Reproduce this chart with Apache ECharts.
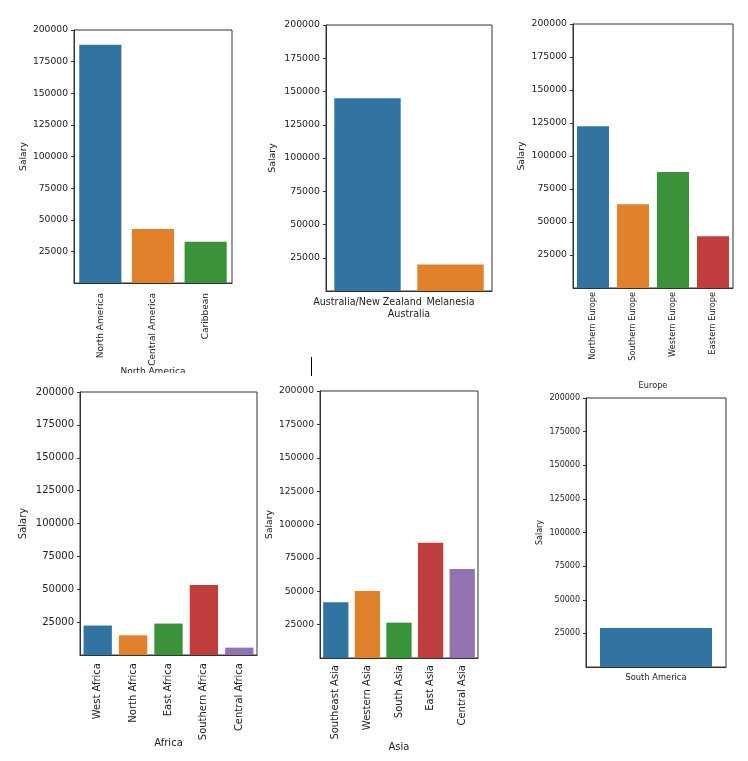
<!DOCTYPE html>
<html>
<head>
<meta charset="utf-8">
<script src="https://cdn.jsdelivr.net/npm/echarts@6/dist/echarts.min.js"></script>
<style>
  html, body { margin: 0; padding: 0; background: #fff; }
  body { width: 748px; height: 761px; position: relative; overflow: hidden; }
  .panel { position: absolute; overflow: hidden; }
  .mark { position: absolute; left: 311px; top: 357px; width: 1px; height: 19px; background: #000; }
</style>
</head>
<body>
<div id="na" class="panel" style="left:0;top:0;width:250px;height:373px"></div>
<div id="au" class="panel" style="left:250px;top:0;width:250px;height:340px"></div>
<div id="eu" class="panel" style="left:500px;top:0;width:248px;height:395px"></div>
<div id="af" class="panel" style="left:0;top:378px;width:260px;height:383px"></div>
<div id="as" class="panel" style="left:255px;top:378px;width:245px;height:383px"></div>
<div id="sa" class="panel" style="left:520px;top:385px;width:228px;height:320px"></div>
<div class="mark"></div>
<script>
// 各地区平均薪资
const northAmericaCats = ['North America', 'Central America', 'Caribbean']
const northAmericaSalary = [188400, 42700, 32700]

const australiaCats = ['Australia/New Zealand', 'Melanesia']
const australiaSalary = [145000, 20000]

const europeCats = ['Northern Europe', 'Southern Europe', 'Western Europe', 'Eastern Europe']
const europeSalary = [122600, 63500, 87800, 39200]

const africaCats = ['West Africa', 'North Africa', 'East Africa', 'Southern Africa', 'Central Africa']
const africaSalary = [22400, 15000, 23900, 53200, 5600]

const asiaCats = ['Southeast Asia', 'Western Asia', 'South Asia', 'East Asia', 'Central Asia']
const asiaSalary = [41700, 50200, 26500, 86400, 66700]

const southAmericaCats = ['South America']
const southAmericaSalary = [29000]

// seaborn 默认调色板（barplot 降饱和）
const palette = ['#3274a1', '#e1812c', '#3a923a', '#c03d3e', '#9372b2']
const font = 'DejaVu Sans'

function makeChart(id, cfg) {
  const chart = echarts.init(document.getElementById(id), null, { renderer: 'canvas' })
  chart.setOption({
    animation: false,
    color: palette,
    grid: {
      show: true,
      left: cfg.grid[0],
      top: cfg.grid[1],
      width: cfg.grid[2],
      height: cfg.grid[3],
      outerBoundsMode: 'none',
      containLabel: false,
      borderColor: '#333',
      borderWidth: 1,
      backgroundColor: 'transparent'
    },
    xAxis: {
      type: 'category',
      data: cfg.cats,
      name: cfg.xName || '',
      nameLocation: 'middle',
      nameGap: cfg.xNameGap || 20,
      nameMoveOverlap: false,
      nameTextStyle: { fontFamily: font, fontSize: cfg.xFont, color: '#222' },
      axisLine: { lineStyle: { color: '#333' } },
      axisTick: { alignWithLabel: true, length: 3, lineStyle: { color: '#333' } },
      axisLabel: {
        interval: 0,
        rotate: cfg.rotate ? 90 : 0,
        margin: cfg.xMargin,
        fontFamily: font,
        fontSize: cfg.xFont,
        color: '#222'
      }
    },
    yAxis: {
      type: 'value',
      min: 0,
      max: 200000,
      interval: 25000,
      name: 'Salary',
      nameLocation: 'middle',
      nameRotate: 90,
      nameGap: cfg.yNameGap,
      nameMoveOverlap: false,
      nameTextStyle: { fontFamily: font, fontSize: cfg.yFont, color: '#222' },
      splitLine: { show: false },
      axisLine: { show: true, lineStyle: { color: '#333' } },
      axisTick: { show: true, length: 3, lineStyle: { color: '#333' } },
      axisLabel: {
        showMinLabel: false,
        margin: 6,
        formatter: (val) => String(val),
        fontFamily: font,
        fontSize: cfg.yFont,
        color: '#222'
      }
    },
    series: [{
      type: 'bar',
      colorBy: 'data',
      data: cfg.values,
      barCategoryGap: '20%'
    }]
  })
  return chart
}

makeChart('na', {
  cats: northAmericaCats, values: northAmericaSalary,
  grid: [74, 30, 158, 253], rotate: true, xMargin: 10,
  xName: 'North America', xNameGap: 84, xFont: 9, yFont: 9.2, yNameGap: 46
})
makeChart('au', {
  cats: australiaCats, values: australiaSalary,
  grid: [76, 25, 166, 266], rotate: false, xMargin: 6,
  xName: 'Australia', xNameGap: 18, xFont: 9.6, yFont: 9.4, yNameGap: 49
})
makeChart('eu', {
  cats: europeCats, values: europeSalary,
  grid: [73, 24, 160, 264], rotate: true, xMargin: 4,
  xName: 'Europe', xNameGap: 94, xFont: 8.2, yFont: 9.3, yNameGap: 47
})
makeChart('af', {
  cats: africaCats, values: africaSalary,
  grid: [80, 14, 177, 263], rotate: true, xMargin: 8,
  xName: 'Africa', xNameGap: 83, xFont: 10, yFont: 10, yNameGap: 52
})
makeChart('as', {
  cats: asiaCats, values: asiaSalary,
  grid: [65, 13, 158, 267], rotate: true, xMargin: 7,
  xName: 'Asia', xNameGap: 84, xFont: 10, yFont: 9.2, yNameGap: 46
})
makeChart('sa', {
  cats: southAmericaCats, values: southAmericaSalary,
  grid: [66, 13, 140, 269], rotate: false, xMargin: 7,
  xFont: 8.3, yFont: 8, yNameGap: 42
})
</script>
</body>
</html>
